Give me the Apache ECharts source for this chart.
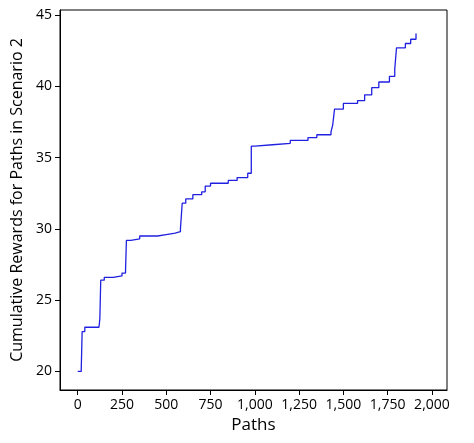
<!DOCTYPE html><html><head><meta charset="utf-8"><script src="https://cdn.jsdelivr.net/npm/echarts@6/dist/echarts.min.js"></script></head><body style="margin:0"><div id="c" style="width:474px;height:443px"></div><script>
const pathX=[0,20,25,40,120,125,130,150,200,250,270,275,300,350,450,500,550,580,590,610,650,700,720,750,850,900,960,980,1000,1100,1200,1300,1350,1430,1440,1450,1500,1580,1620,1660,1700,1760,1790,1800,1850,1880,1910];
const rewards=[20,20.2,22.8,23.1,23.1,23.7,26.4,26.6,26.7,26.9,27.1,29.2,29.3,29.5,29.6,29.7,29.8,30.0,31.8,32.1,32.4,32.6,33.0,33.2,33.4,33.6,33.9,35.8,35.9,36.0,36.2,36.4,36.6,36.8,37.3,38.4,38.8,39.0,39.4,39.9,40.3,40.7,41.2,42.7,43.0,43.3,43.7];
const xTicks=[0,250,500,750,1000,1250,1500,1750,2000];
const yTicks=[20,25,30,35,40,45];
const c=echarts.init(document.getElementById('c'));
const lab={color:'#000',fontSize:14,fontFamily:'Open Sans'};
const line={show:true,onZero:false,lineStyle:{color:'#000'}};
c.setOption({animation:false,grid:{left:60,right:27,top:10,bottom:53,show:true,borderColor:'#000',borderWidth:1},
xAxis:{type:'value',min:-100,max:2085,name:'Paths',nameLocation:'middle',nameGap:27,nameTextStyle:{fontSize:17,color:'#000',fontFamily:'Open Sans'},
 axisLine:line,splitLine:{show:false},axisTick:{show:true,customValues:xTicks,lineStyle:{color:'#000'}},axisLabel:Object.assign({customValues:xTicks},lab)},
yAxis:{type:'value',min:18.7,max:45.35,name:'Cumulative Rewards for Paths in Scenario 2',nameLocation:'middle',nameGap:34,nameTextStyle:{fontSize:16,color:'#000',fontFamily:'Open Sans'},
 axisLine:line,splitLine:{show:false},axisTick:{show:true,customValues:yTicks,lineStyle:{color:'#000'}},axisLabel:Object.assign({customValues:yTicks},lab)},
series:[{type:'line',step:'end',showSymbol:false,data:pathX.map((x,i)=>[x,rewards[i]]),lineStyle:{color:'#2020e0',width:1.3}}]});
</script></body></html>
